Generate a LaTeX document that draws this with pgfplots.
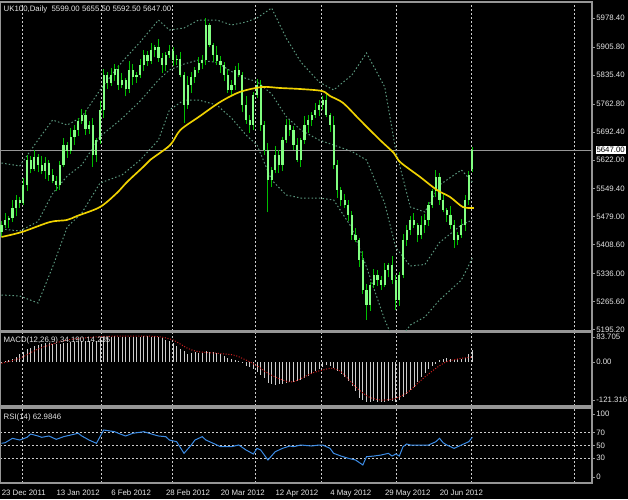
\documentclass[border=0pt]{standalone}
\usepackage{fontspec}
\setmainfont{Liberation Sans}
\usepackage{pgfplots}
\usepackage{pgfplotstable}
\pgfplotsset{compat=1.18}

\definecolor{mtxt}{RGB}{228,228,228}
\definecolor{mtborder}{RGB}{150,150,150}
\definecolor{mtgrid}{RGB}{205,205,205}
\definecolor{wickc}{RGB}{0,190,0}
\definecolor{bodyc}{RGB}{130,255,130}
\definecolor{maline}{RGB}{240,210,0}
\definecolor{bandc}{RGB}{90,150,125}
\definecolor{histc}{RGB}{205,205,205}
\definecolor{sigc}{RGB}{210,30,30}
\definecolor{rsiline}{RGB}{60,140,230}

\newcommand{\mtfont}{\fontsize{4.7}{5.4}\selectfont}

% i open high low close
\pgfplotstableread{
i o h l c
0 5440 5468 5428 5458
1 5458 5488 5452 5470
2 5470 5482 5452 5476
3 5476 5522 5467 5500
4 5500 5535 5480 5521
5 5521 5529 5501 5515
6 5515 5576 5508 5560
7 5560 5634 5545 5622
8 5622 5632 5588 5600
9 5600 5648 5594 5630
10 5630 5636 5591 5609
11 5609 5631 5586 5595
12 5595 5629 5575 5615
13 5615 5623 5570 5584
14 5584 5600 5563 5570
15 5570 5582 5544 5559
16 5559 5620 5547 5610
17 5610 5678 5604 5660
18 5660 5666 5627 5645
19 5645 5702 5636 5680
20 5680 5711 5660 5697
21 5697 5728 5683 5720
22 5720 5751 5713 5735
23 5735 5747 5685 5700
24 5700 5720 5688 5710
25 5710 5728 5605 5634
26 5634 5678 5616 5672
27 5672 5770 5663 5748
28 5748 5850 5728 5836
29 5836 5844 5801 5815
30 5815 5852 5808 5836
31 5836 5862 5821 5850
32 5850 5860 5798 5810
33 5810 5841 5804 5823
34 5823 5829 5782 5800
35 5800 5870 5791 5848
36 5848 5862 5810 5830
37 5830 5844 5816 5836
38 5836 5876 5829 5860
39 5860 5898 5845 5886
40 5886 5896 5858 5870
41 5870 5916 5864 5898
42 5898 5911 5880 5905
43 5905 5927 5869 5878
44 5878 5892 5840 5860
45 5860 5894 5846 5886
46 5886 5911 5879 5895
47 5895 5907 5858 5873
48 5873 5885 5861 5875
49 5875 5893 5830 5836
50 5836 5842 5715 5760
51 5760 5832 5751 5810
52 5810 5844 5790 5830
53 5830 5856 5816 5848
54 5848 5881 5841 5865
55 5865 5885 5850 5873
56 5873 5979 5861 5961
57 5961 5966 5905 5911
58 5911 5917 5868 5886
59 5886 5908 5861 5870
60 5870 5884 5841 5861
61 5861 5869 5821 5835
62 5835 5851 5791 5798
63 5798 5822 5783 5810
64 5810 5858 5798 5848
65 5848 5866 5830 5836
66 5836 5842 5742 5760
67 5760 5782 5713 5722
68 5722 5736 5690 5710
69 5710 5793 5696 5785
70 5785 5826 5778 5810
71 5810 5822 5695 5710
72 5710 5720 5635 5647
73 5647 5665 5490 5572
74 5572 5603 5554 5597
75 5597 5656 5588 5634
76 5634 5648 5589 5609
77 5609 5680 5595 5672
78 5672 5726 5665 5710
79 5710 5722 5682 5697
80 5697 5707 5648 5660
81 5660 5678 5616 5622
82 5622 5678 5604 5672
83 5672 5732 5663 5710
84 5710 5736 5690 5722
85 5722 5743 5708 5735
86 5735 5764 5728 5748
87 5748 5772 5733 5760
88 5760 5782 5748 5772
89 5772 5790 5729 5735
90 5735 5741 5692 5710
91 5710 5732 5600 5609
92 5609 5623 5526 5546
93 5546 5554 5507 5521
94 5521 5537 5502 5509
95 5509 5521 5469 5484
96 5484 5494 5421 5433
97 5433 5451 5415 5421
98 5421 5427 5353 5371
99 5371 5393 5286 5295
100 5295 5309 5220 5257
101 5257 5316 5243 5308
102 5308 5349 5301 5333
103 5333 5345 5305 5320
104 5320 5330 5296 5308
105 5308 5363 5302 5345
106 5345 5364 5327 5358
107 5358 5380 5311 5320
108 5320 5334 5246 5270
109 5270 5341 5256 5333
110 5333 5437 5326 5421
111 5421 5458 5406 5446
112 5446 5481 5434 5471
113 5471 5489 5452 5458
114 5458 5464 5415 5433
115 5433 5480 5424 5458
116 5458 5485 5438 5471
117 5471 5517 5457 5509
118 5509 5550 5502 5545
119 5545 5597 5530 5580
120 5580 5590 5509 5521
121 5521 5539 5490 5496
122 5496 5502 5466 5484
123 5484 5506 5449 5458
124 5458 5472 5401 5421
125 5421 5441 5407 5433
126 5433 5474 5426 5458
127 5458 5533 5443 5521
128 5521 5594 5509 5584
129 5599 5655.5 5592.5 5647
}\candles

% i upper middle lower
\pgfplotstableread{
i u m d
0 5614.3 5448.4 5282.5
5 5606.8 5443.4 5280.0
10 5672.1 5467.3 5262.4
14 5722.4 5537.6 5352.9
18 5709.8 5581.6 5453.4
22 5729.9 5609.3 5488.6
27 5797.8 5680.9 5564.0
33 5868.2 5726.1 5584.1
38 5918.4 5770.1 5621.8
43 5973.7 5822.9 5672.1
46 5948.6 5848.1 5747.5
50 5953.6 5863.1 5772.6
54 5973.7 5873.2 5772.6
59 5973.7 5866.9 5760.1
63 5961.2 5844.3 5727.4
67 5968.7 5826.7 5684.7
70 5978.8 5819.1 5659.5
74 6003.9 5787.7 5571.6
78 5928.5 5731.2 5533.9
82 5868.2 5697.2 5526.3
87 5817.9 5672.1 5526.3
91 5797.8 5659.5 5521.3
96 5835.5 5643.2 5450.9
100 5890.8 5621.8 5352.9
105 5805.3 5512.5 5219.7
108 5647.0 5401.9 5156.9
112 5503.7 5355.4 5207.1
116 5491.1 5359.2 5227.2
120 5559.0 5414.5 5270.0
126 5596.7 5458.5 5320.2
129 5566.5 5471.0 5375.5
}\bands

% i macd
\pgfplotstableread{
i m
0 1
1 3
2 6
3 10
4 15
5 22
6 28
7 36
8 40
9 44
10 47
11 50
12 52
13 52
14 51
15 50
16 51
17 53
18 54
19 55
20 57
21 58
22 60
23 60
24 58
25 56
26 60
27 66
28 70
29 71
30 71
31 72
32 71
33 70
34 70
35 71
36 71
37 70
38 71
39 72
40 72
41 71
42 72
43 70
44 66
45 62
46 58
47 53
48 46
49 38
50 30
51 22
52 25
53 27
54 26
55 26
56 30
57 28
58 27
59 26
60 24
61 18
62 12
63 8
64 6
65 4
66 -3
67 -10
68 -14
69 -20
70 -26
71 -35
72 -45
73 -57
74 -61
75 -62
76 -61
77 -60
78 -58
79 -56
80 -54
81 -52
82 -48
83 -44
84 -38
85 -32
86 -25
87 -18
88 -12
89 -8
90 -10
91 -17
92 -25
93 -33
94 -40
95 -52
96 -65
97 -80
98 -100
99 -106
100 -109
101 -109
102 -108
103 -109
104 -110
105 -109
106 -108
107 -108
108 -109
109 -104
110 -96
111 -88
112 -78
113 -68
114 -55
115 -42
116 -31
117 -20
118 -10
119 -5
120 5
121 10
122 11
123 9
124 7
125 8
126 10
127 13
128 22
129 34.19
}\macdtab

\begin{document}
\begin{tikzpicture}
\path[use as bounding box] (0,0) rectangle (376.8pt,-299.4pt);
\clip (0,0) rectangle (376.8pt,-299.4pt);
\fill[black] (0,0) rectangle (376.8pt,-299.4pt);

\pgfplotsset{mt/.style={
  scale only axis, width=355.2pt,
  xmin=-0.41, xmax=161.78,
  axis line style={draw=mtborder, line width=0.8pt},
  xtick={5.62,27.26,46.71,69.45,87.53,108.08,128.63,156.85},
  xticklabels={},
  xmajorgrids,
  major x grid style={draw=mtgrid, line width=0.5pt, dash pattern=on 1.2pt off 1.2pt},
  x tick style={draw=none},
  ytick pos=right, yticklabel pos=right,
  y tick style={draw=mtborder, line width=0.5pt},
  tick align=outside, major tick length=1.8pt,
  yticklabel style={font=\mtfont, text=mtxt, inner sep=0.6pt},
  clip mode=individual,
}}

% price panel
\begin{axis}[mt, at={(0pt,-1.2pt)}, anchor=north west, height=197.4pt,
  ymin=5192, ymax=6019,
  ytick={5978.4,5905.8,5835.4,5762.8,5692.4,5622.0,5549.4,5479.0,5408.6,5336.0,5265.6,5195.2},
  yticklabels={5978.40,5905.80,5835.40,5762.80,5692.40,5622.00,5549.40,5479.00,5408.60,5336.00,5265.60,5195.20},
]
\addplot[bandc, line width=0.6pt, dash pattern=on 0.9pt off 1.3pt] table[x=i, y=u] {\bands};
\addplot[bandc, line width=0.6pt, dash pattern=on 0.9pt off 1.3pt] table[x=i, y=m] {\bands};
\addplot[bandc, line width=0.6pt, dash pattern=on 0.9pt off 1.3pt] table[x=i, y=d] {\bands};
\addplot[mtborder, line width=0.5pt] coordinates {(-1,5647) (163,5647)};
\addplot[wickc, line width=0.55pt, quiver={u=0, v=\thisrow{h}-\thisrow{l}}] table[x=i, y=l] {\candles};
\addplot[bodyc, line width=1.3pt, quiver={u=0, v=\thisrow{c}-\thisrow{o}}] table[x=i, y=o] {\candles};
\addplot[maline, line width=1pt, smooth] coordinates {
  (0,5428.3) (5.6,5440.9) (13.3,5466.0) (17.9,5471.0) (20.7,5481.1) (27,5503.7)
  (31.6,5538.9) (34.4,5566.5) (38.8,5604.3) (40.7,5621.8) (46.2,5659.5) (49,5697.2)
  (54.4,5732.4) (59.9,5767.6) (65.3,5792.8) (71.4,5805.3) (76.3,5802.8) (81.8,5800.3)
  (87.8,5795.3) (90,5782.7) (93.6,5765.1) (98.2,5722.4) (103.7,5672.1) (107.5,5639.4)
  (109.2,5616.8) (114.7,5579.1) (119.3,5546.4) (122.9,5528.8) (126.4,5503.7) (129.4,5501.2)
};
\node[anchor=north west, font=\mtfont, text=mtxt, inner sep=0pt] at ([xshift=2pt, yshift=-2.2pt]rel axis cs:0,1)
  {UK100,Daily\ \ 5599.00 5655.50 5592.50 5647.00};
\node[anchor=west, font=\mtfont, text=black, fill=white, inner sep=0.6pt] at ([xshift=1.9pt]axis cs:161.78,5647) {5647.00};
\end{axis}

% MACD panel
\begin{axis}[mt, at={(0pt,-199.2pt)}, anchor=north west, height=44.4pt,
  ymin=-121.316, ymax=83.705,
  ytick={69.9,0,-104.7},
  yticklabels={83.705,0.00,-121.316},
]
\addplot[ycomb, histc, line width=0.45pt] table[x=i, y=m] {\macdtab};
\addplot[sigc, densely dotted, line width=0.6pt, smooth] coordinates {
  (0,-3) (5,10.8) (10.5,38.5) (18,61.5) (27,70.7) (36,72.6) (43,70.7) (47,61.5)
  (51,38.5) (54,29.1) (59,24.7) (63.5,20) (67,6.1) (70,-10) (73,-30.7) (77,-49.3)
  (80,-54) (85,-30.7) (88,-21.6) (90.5,-16.9) (93,-26.3) (97,-67.8) (100.5,-95.5)
  (104,-104.7) (108,-100) (111.5,-81.7) (115,-49.3) (119,-16.9) (122,1.4) (126,10.8)
  (129,14.235)
};
\node[anchor=north west, font=\mtfont, text=mtxt, inner sep=0pt] at ([xshift=2pt, yshift=-2.4pt]rel axis cs:0,1)
  {MACD(12,26,9) 34.190 14.235};
\end{axis}

% RSI panel
\begin{axis}[mt, at={(0pt,-244.8pt)}, anchor=north west, height=45pt,
  ymin=-9.5, ymax=109.5,
  ytick={30,50,70}, yticklabels={30,50,70},
  ymajorgrids,
  major y grid style={draw=mtgrid, line width=0.5pt, dash pattern=on 1.2pt off 1.2pt},
  extra y ticks={0,100}, extra y tick labels={0,100},
  extra y tick style={grid=none},
  extra x ticks={0,15,30,45,60,75,90,105,120},
  extra x tick labels={23 Dec 2011,13 Jan 2012,6 Feb 2012,28 Feb 2012,20 Mar 2012,12 Apr 2012,4 May 2012,29 May 2012,20 Jun 2012},
  extra x tick style={grid=none, tick style={draw=none},
    tick label style={anchor=north west, font=\mtfont, text=mtxt, inner sep=0pt, yshift=-2.2pt}},
]
\addplot[rsiline, line width=0.6pt] coordinates {
  (0,53.5) (1,54.4) (3,61.4) (5,58.7) (7,63) (8,68.2) (10,65.1) (11,63) (13,65.1)
  (15,59.8) (17,64) (19,66.7) (21,69.4) (22,65.1) (24,58.7) (26,53.5) (27,64)
  (28,74.6) (31,71.9) (32,69.4) (34,65.1) (36,69.4) (39,71.9) (42,66.7) (43,65.1)
  (45,64) (46,58.7) (48,56) (50,37.6) (52,50.8) (53,58.7) (55,64) (56,58.7)
  (58,53.5) (60,48.1) (63,48.1) (65,50.8) (67,42.9) (69,36.5) (70,45.5) (71,42.9)
  (73,27) (75,40.2) (77,45.5) (79,49.2) (80,48.1) (82,50.8) (85,49.2) (87,50.8)
  (88,50.8) (90,45.5) (91,37.6) (93,33.3) (95,29.7) (97,27) (99,19.1) (100,32.2)
  (102,33.3) (104,34.9) (106,37.6) (107,33.3) (108,36.5) (109,33.3) (110,48.1)
  (111,52.4) (112,50.8) (115,50.8) (117,50.8) (119,56) (120,61.4) (121,54.4)
  (122,50.8) (124,45.5) (126,50.8) (128,56) (129,63)
};
\node[anchor=north west, font=\mtfont, text=mtxt, inner sep=0pt] at ([xshift=2pt, yshift=-3pt]rel axis cs:0,1)
  {RSI(14) 62.9846};
\end{axis}
\end{tikzpicture}
\end{document}
